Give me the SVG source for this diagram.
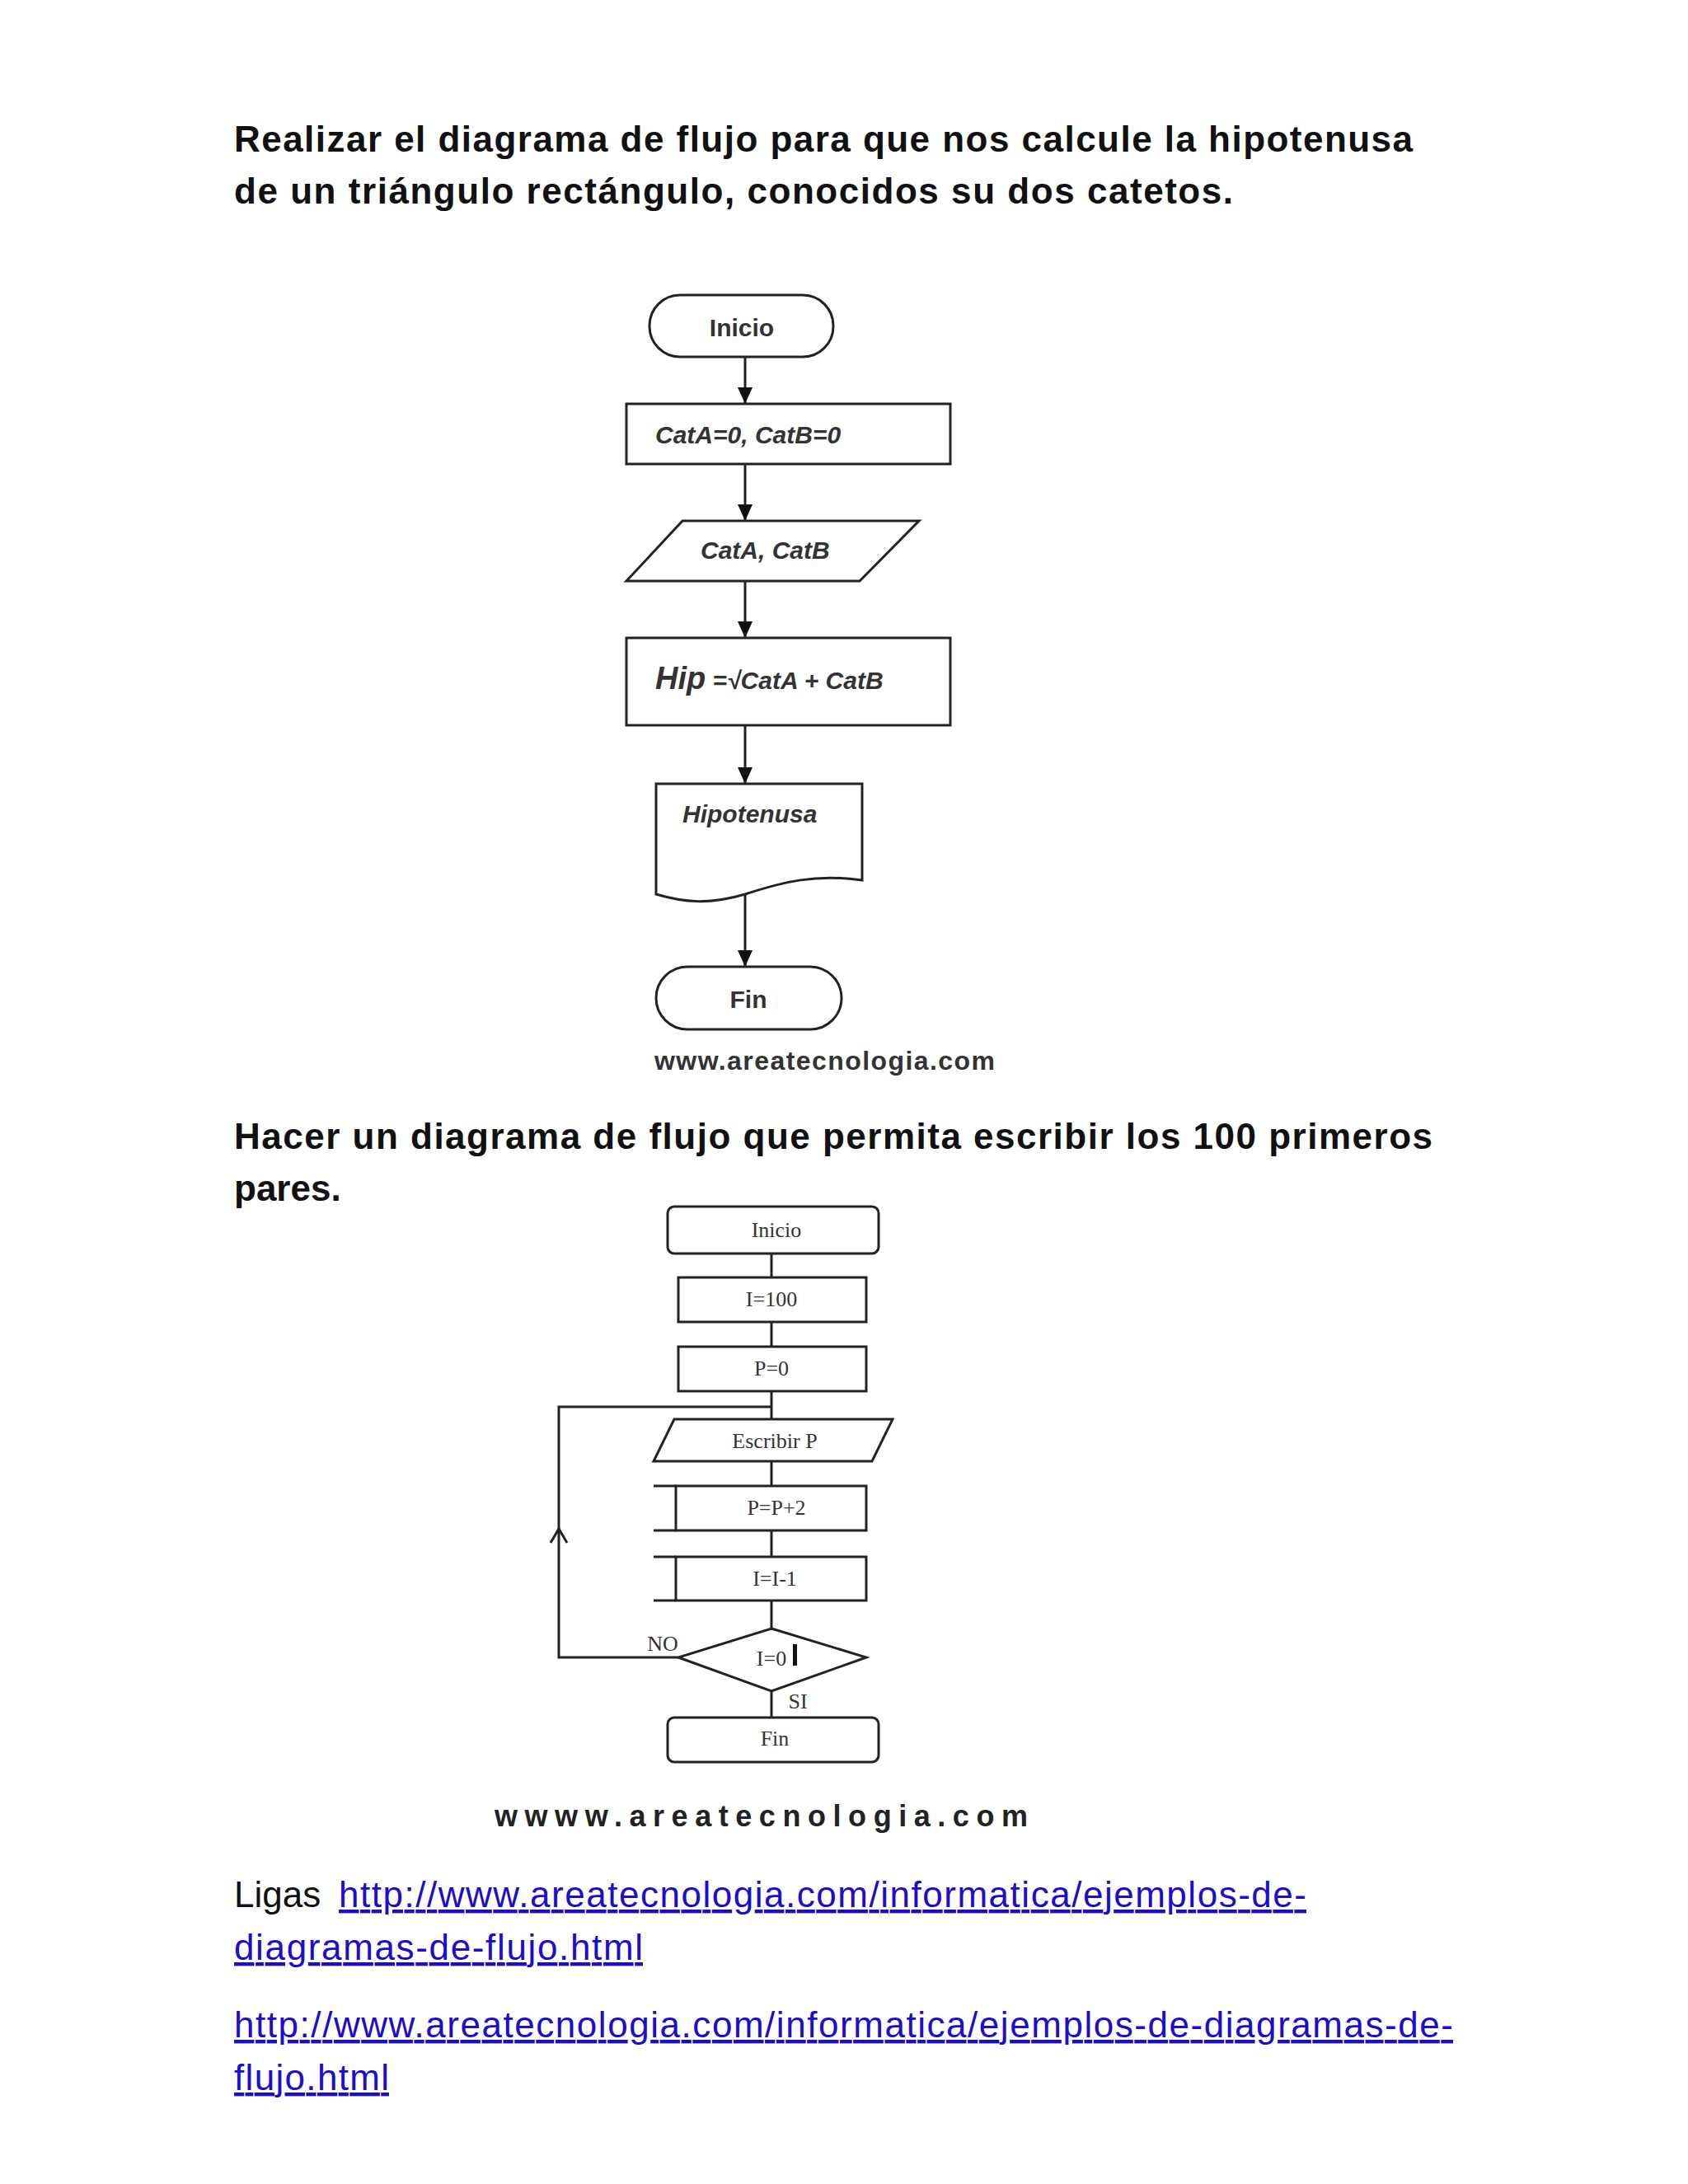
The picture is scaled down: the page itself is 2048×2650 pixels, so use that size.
<svg xmlns="http://www.w3.org/2000/svg" width="2048" height="2650" viewBox="0 0 2048 2650">
<style>
.h{font-family:"Liberation Sans",Arial,sans-serif;font-weight:bold;font-size:44px;fill:#111}
.b{font-family:"Liberation Sans",Arial,sans-serif;font-size:44px;fill:#111}
.l{font-family:"Liberation Sans",Arial,sans-serif;font-size:44px;fill:#1a0dcc;text-decoration:underline}
.s{fill:#fff;stroke:#222;stroke-width:3}
.t1{font-family:"Liberation Sans",Arial,sans-serif;font-weight:bold;font-size:30px;fill:#333;text-anchor:middle}
.ti{font-family:"Liberation Sans",Arial,sans-serif;font-weight:bold;font-style:italic;font-size:30px;fill:#333}
.t2{font-family:"Liberation Serif","Times New Roman",serif;font-size:26px;fill:#333;text-anchor:middle}
.c{fill:none;stroke:#222;stroke-width:3}
</style>
<defs>
<marker id="a" markerWidth="10" markerHeight="10" refX="9" refY="5" orient="auto" markerUnits="userSpaceOnUse" viewBox="0 0 10 10"><path d="M0,0 L10,5 L0,10z" fill="#111" transform="scale(1)"/></marker>
<marker id="ab" markerWidth="22" markerHeight="22" refX="20" refY="11" orient="auto" markerUnits="userSpaceOnUse"><path d="M0,2 L20,11 L0,20z" fill="#111"/></marker>
</defs>
<rect width="2048" height="2650" fill="#fff"/>
<text class="h" x="284" y="184" textLength="1430" lengthAdjust="spacing">Realizar el diagrama de flujo para que nos calcule la hipotenusa</text>
<text class="h" x="284" y="247" textLength="1212" lengthAdjust="spacing">de un triángulo rectángulo, conocidos su dos catetos.</text>
<g id="connectors1">
<line class="c" x1="904" y1="433" x2="904" y2="490" marker-end="url(#ab)"/>
<line class="c" x1="904" y1="563" x2="904" y2="632" marker-end="url(#ab)"/>
<line class="c" x1="904" y1="705" x2="904" y2="774" marker-end="url(#ab)"/>
<line class="c" x1="904" y1="880" x2="904" y2="951" marker-end="url(#ab)"/>
<line class="c" x1="904" y1="1085" x2="904" y2="1173" marker-end="url(#ab)"/>
</g>
<g id="inicio1"><rect class="s" x="788" y="358" width="223" height="75" rx="37"/><text class="t1" x="900" y="408">Inicio</text></g>
<g id="init1"><rect class="s" x="760" y="490" width="393" height="73"/><text class="ti" x="795" y="538">CatA=0, CatB=0</text></g>
<g id="input1"><polygon class="s" points="828,632 1115,632 1043,705 760,705"/><text class="ti" x="850" y="678">CatA, CatB</text></g>
<g id="calc1"><rect class="s" x="760" y="774" width="393" height="106"/><text class="ti" x="795" y="836"><tspan font-size="38">Hip</tspan> =√CatA + CatB</text></g>
<g id="doc1"><path class="s" d="M796,951 H1046 V1068 C990,1060 950,1070 904,1085 C860,1098 830,1095 796,1085 Z"/><text class="ti" x="828" y="998">Hipotenusa</text></g>
<g id="fin1"><rect class="s" x="796" y="1173" width="225" height="76" rx="38"/><text class="t1" x="908" y="1223">Fin</text></g>
<text x="794" y="1298" font-family="'Liberation Sans',Arial,sans-serif" font-weight="bold" font-size="32" fill="#333" textLength="413" lengthAdjust="spacing">www.areatecnologia.com</text>
<text class="h" x="284" y="1394" textLength="1454" lengthAdjust="spacing">Hacer un diagrama de flujo que permita escribir los 100 primeros</text>
<text class="h" x="284" y="1457">pares.</text>
<g id="connectors2">
<line class="c" x1="936" y1="1521" x2="936" y2="1550"/>
<line class="c" x1="936" y1="1604" x2="936" y2="1634"/>
<line class="c" x1="936" y1="1688" x2="936" y2="1722"/>
<line class="c" x1="936" y1="1773" x2="936" y2="1803"/>
<line class="c" x1="936" y1="1857" x2="936" y2="1889"/>
<line class="c" x1="936" y1="1942" x2="936" y2="1976"/>
<line class="c" x1="936" y1="2052" x2="936" y2="2084"/>
<polyline class="c" points="823,2011 678,2011 678,1707 936,1707"/>
<polyline class="c" points="668,1872 678,1855 688,1872"/>
</g>
<g id="inicio2"><rect class="s" x="810" y="1464" width="256" height="57" rx="8"/><text class="t2" x="942" y="1501" fill="#633">Inicio</text></g>
<g id="i100"><rect class="s" x="823" y="1550" width="228" height="54"/><text class="t2" x="936" y="1585">I=100</text></g>
<g id="p0"><rect class="s" x="823" y="1634" width="228" height="54"/><text class="t2" x="936" y="1669">P=0</text></g>
<g id="escribir"><polygon class="s" points="818,1722 1083,1722 1058,1773 793,1773"/><text class="t2" x="940" y="1757">Escribir P</text></g>
<g id="pp2"><rect class="s" x="820" y="1803" width="231" height="54"/><line class="c" x1="793" y1="1803" x2="820" y2="1803"/><line class="c" x1="793" y1="1857" x2="820" y2="1857"/><text class="t2" x="942" y="1838">P=P+2</text></g>
<g id="ii1"><rect class="s" x="820" y="1889" width="231" height="53"/><line class="c" x1="793" y1="1889" x2="820" y2="1889"/><line class="c" x1="793" y1="1942" x2="820" y2="1942"/><text class="t2" x="940" y="1924">I=I-1</text></g>
<g id="decision"><polygon class="s" points="936,1976 1051,2011 936,2052 823,2011"/><text class="t2" x="936" y="2021">I=0</text><rect x="962" y="1995" width="5" height="26" fill="#111"/></g>
<text class="t2" x="804" y="2003">NO</text>
<text class="t2" x="968" y="2073">SI</text>
<g id="fin2"><rect class="s" x="810" y="2084" width="256" height="54" rx="8"/><text class="t2" x="940" y="2118">Fin</text></g>
<text x="600" y="2216" font-family="'Liberation Sans',Arial,sans-serif" font-weight="bold" font-size="36" fill="#222" textLength="647" lengthAdjust="spacing">wwww.areatecnologia.com</text>
<text class="b" x="284" y="2314">Ligas</text>
<text class="l" x="411" y="2314" textLength="1174" lengthAdjust="spacing">http://www.areatecnologia.com/informatica/ejemplos-de-</text>
<text class="l" x="284" y="2378" textLength="496" lengthAdjust="spacing">diagramas-de-flujo.html</text>
<text class="l" x="284" y="2472" textLength="1479" lengthAdjust="spacing">http://www.areatecnologia.com/informatica/ejemplos-de-diagramas-de-</text>
<text class="l" x="284" y="2536" textLength="188" lengthAdjust="spacing">flujo.html</text>
</svg>
